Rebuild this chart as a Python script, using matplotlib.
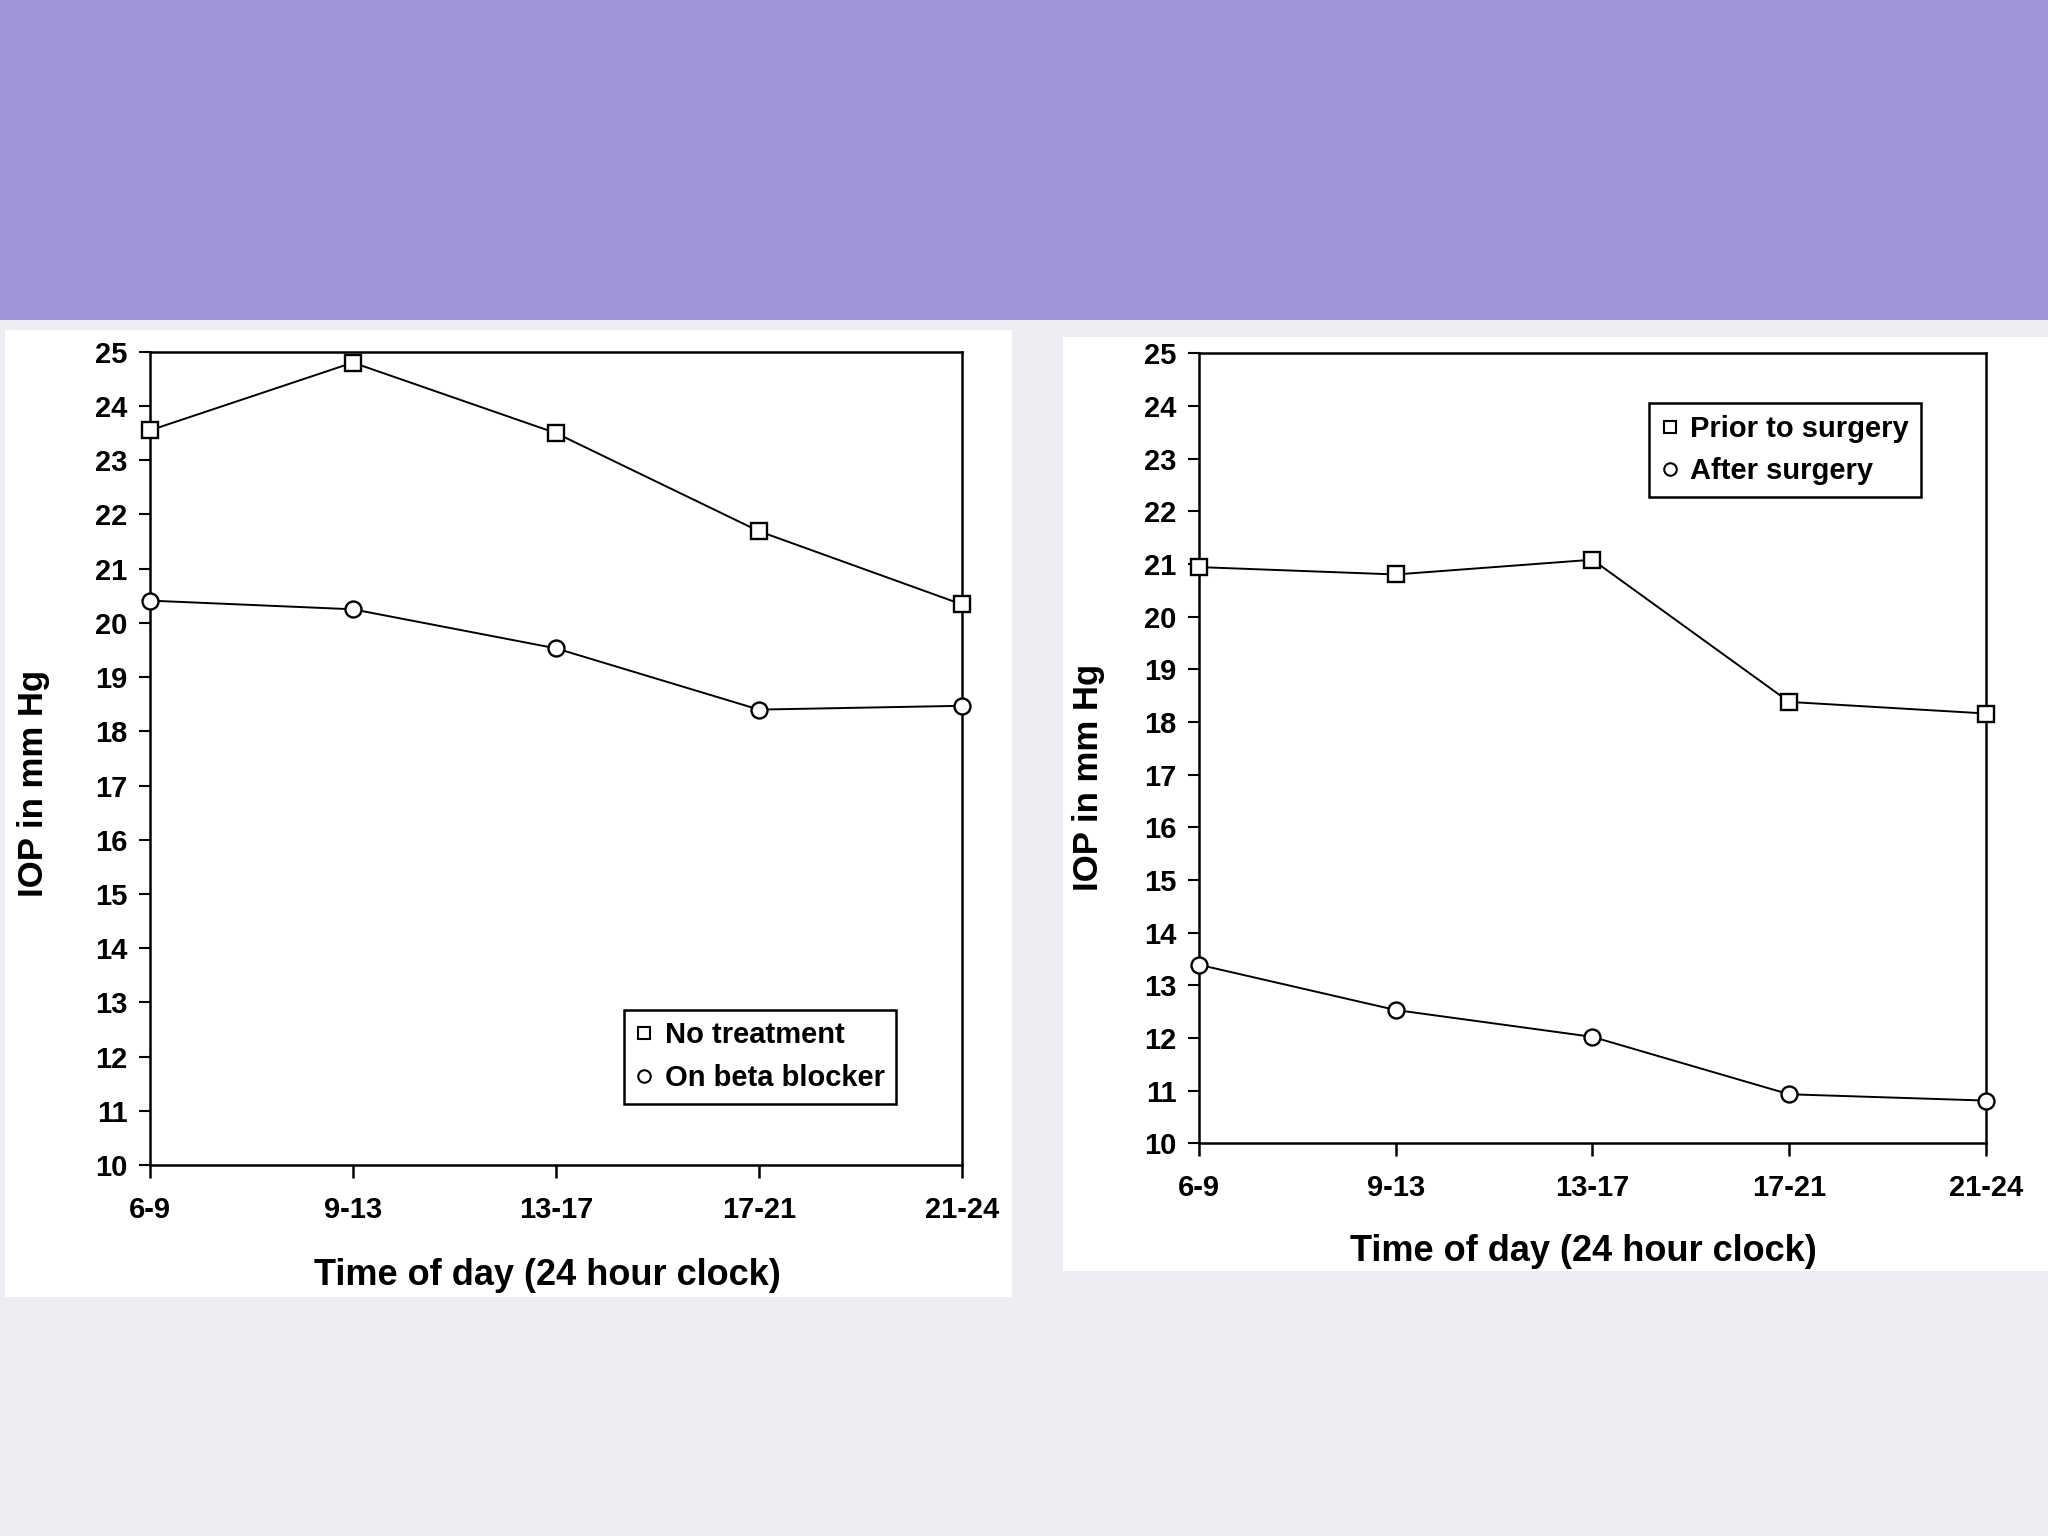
import matplotlib.pyplot as plt
from matplotlib.lines import Line2D
from matplotlib.patches import Rectangle

# data
times = ['6-9', '9-13', '13-17', '17-21', '21-24']
no_treatment = [23.55, 24.8, 23.5, 21.69, 20.34]
beta_blocker = [20.41, 20.25, 19.53, 18.4, 18.47]
prior_surgery = [20.94, 20.8, 21.08, 18.38, 18.16]
after_surgery = [13.39, 12.53, 12.02, 10.93, 10.81]
yticks = list(range(10, 26))

plt.rcParams['font.family'] = ['Liberation Sans', 'DejaVu Sans']

fig = plt.figure(figsize=(20.48, 15.36), dpi=100)
fig.patch.set_facecolor('#eeedf4')

# slide decoration: purple band and white panels
for xy, w, h, c in [((0, 0.7917), 1, 0.2083, '#a194d8'),
                    ((0.0024, 0.1556), 0.4917, 0.6296, 'white'),
                    ((0.519, 0.1725), 0.481, 0.608, 'white')]:
    fig.patches.append(Rectangle(xy, w, h, transform=fig.transFigure,
                                 facecolor=c, edgecolor='none', zorder=-5))


def panel(rect, top, bottom, labels, legend_anchor, ylab_xy, xlab_xy):
    ax = fig.add_axes(rect)
    x = range(len(times))
    ax.plot(x, top, color='black', lw=1.4, marker='s', ms=11.5, mfc='white',
            mec='black', mew=1.7, clip_on=False, zorder=3)
    ax.plot(x, bottom, color='black', lw=1.4, marker='o', ms=11.5, mfc='white',
            mec='black', mew=1.7, clip_on=False, zorder=3)
    ax.set_xlim(0, len(times) - 1)
    ax.set_ylim(10, 25)
    ax.set_xticks(list(x))
    ax.set_xticklabels(times)
    ax.set_yticks(yticks)
    ax.tick_params(axis='x', length=9, width=1.8, pad=13, labelsize=21)
    ax.tick_params(axis='y', length=8, width=1.5, pad=8, labelsize=21)
    for lab in ax.get_xticklabels() + ax.get_yticklabels():
        lab.set_fontweight('bold')
    for s in ax.spines.values():
        s.set_linewidth(1.8)
    ax.set_ylabel('IOP in mm Hg', fontsize=25, fontweight='bold')
    ax.yaxis.set_label_coords(*ylab_xy)
    ax.set_xlabel('Time of day (24 hour clock)', fontsize=26, fontweight='bold')
    ax.xaxis.set_label_coords(*xlab_xy)
    handles = [Line2D([], [], ls='none', marker='s', ms=9, mfc='white', mec='black', mew=1.5),
               Line2D([], [], ls='none', marker='o', ms=9, mfc='white', mec='black', mew=1.5)]
    leg = ax.legend(handles, labels, loc='upper right', bbox_to_anchor=legend_anchor,
                    borderaxespad=0, fancybox=False, edgecolor='black', framealpha=1,
                    handlelength=0.6, handletextpad=0.4, borderpad=0.4, labelspacing=0.5,
                    prop={'size': 21, 'weight': 'bold'})
    leg.get_frame().set_linewidth(1.8)
    return ax


panel([0.0732, 0.2415, 0.3965, 0.5295], no_treatment, beta_blocker,
      ['No treatment', 'On beta blocker'], (0.919, 0.191), (-0.123, 0.469), (0.49, -0.114))
panel([0.5854, 0.2557, 0.3843, 0.5143], prior_surgery, after_surgery,
      ['Prior to surgery', 'After surgery'], (0.917, 0.937), (-0.119, 0.463), (0.489, -0.115))

fig.savefig('out.png', dpi=100, facecolor=fig.get_facecolor())
